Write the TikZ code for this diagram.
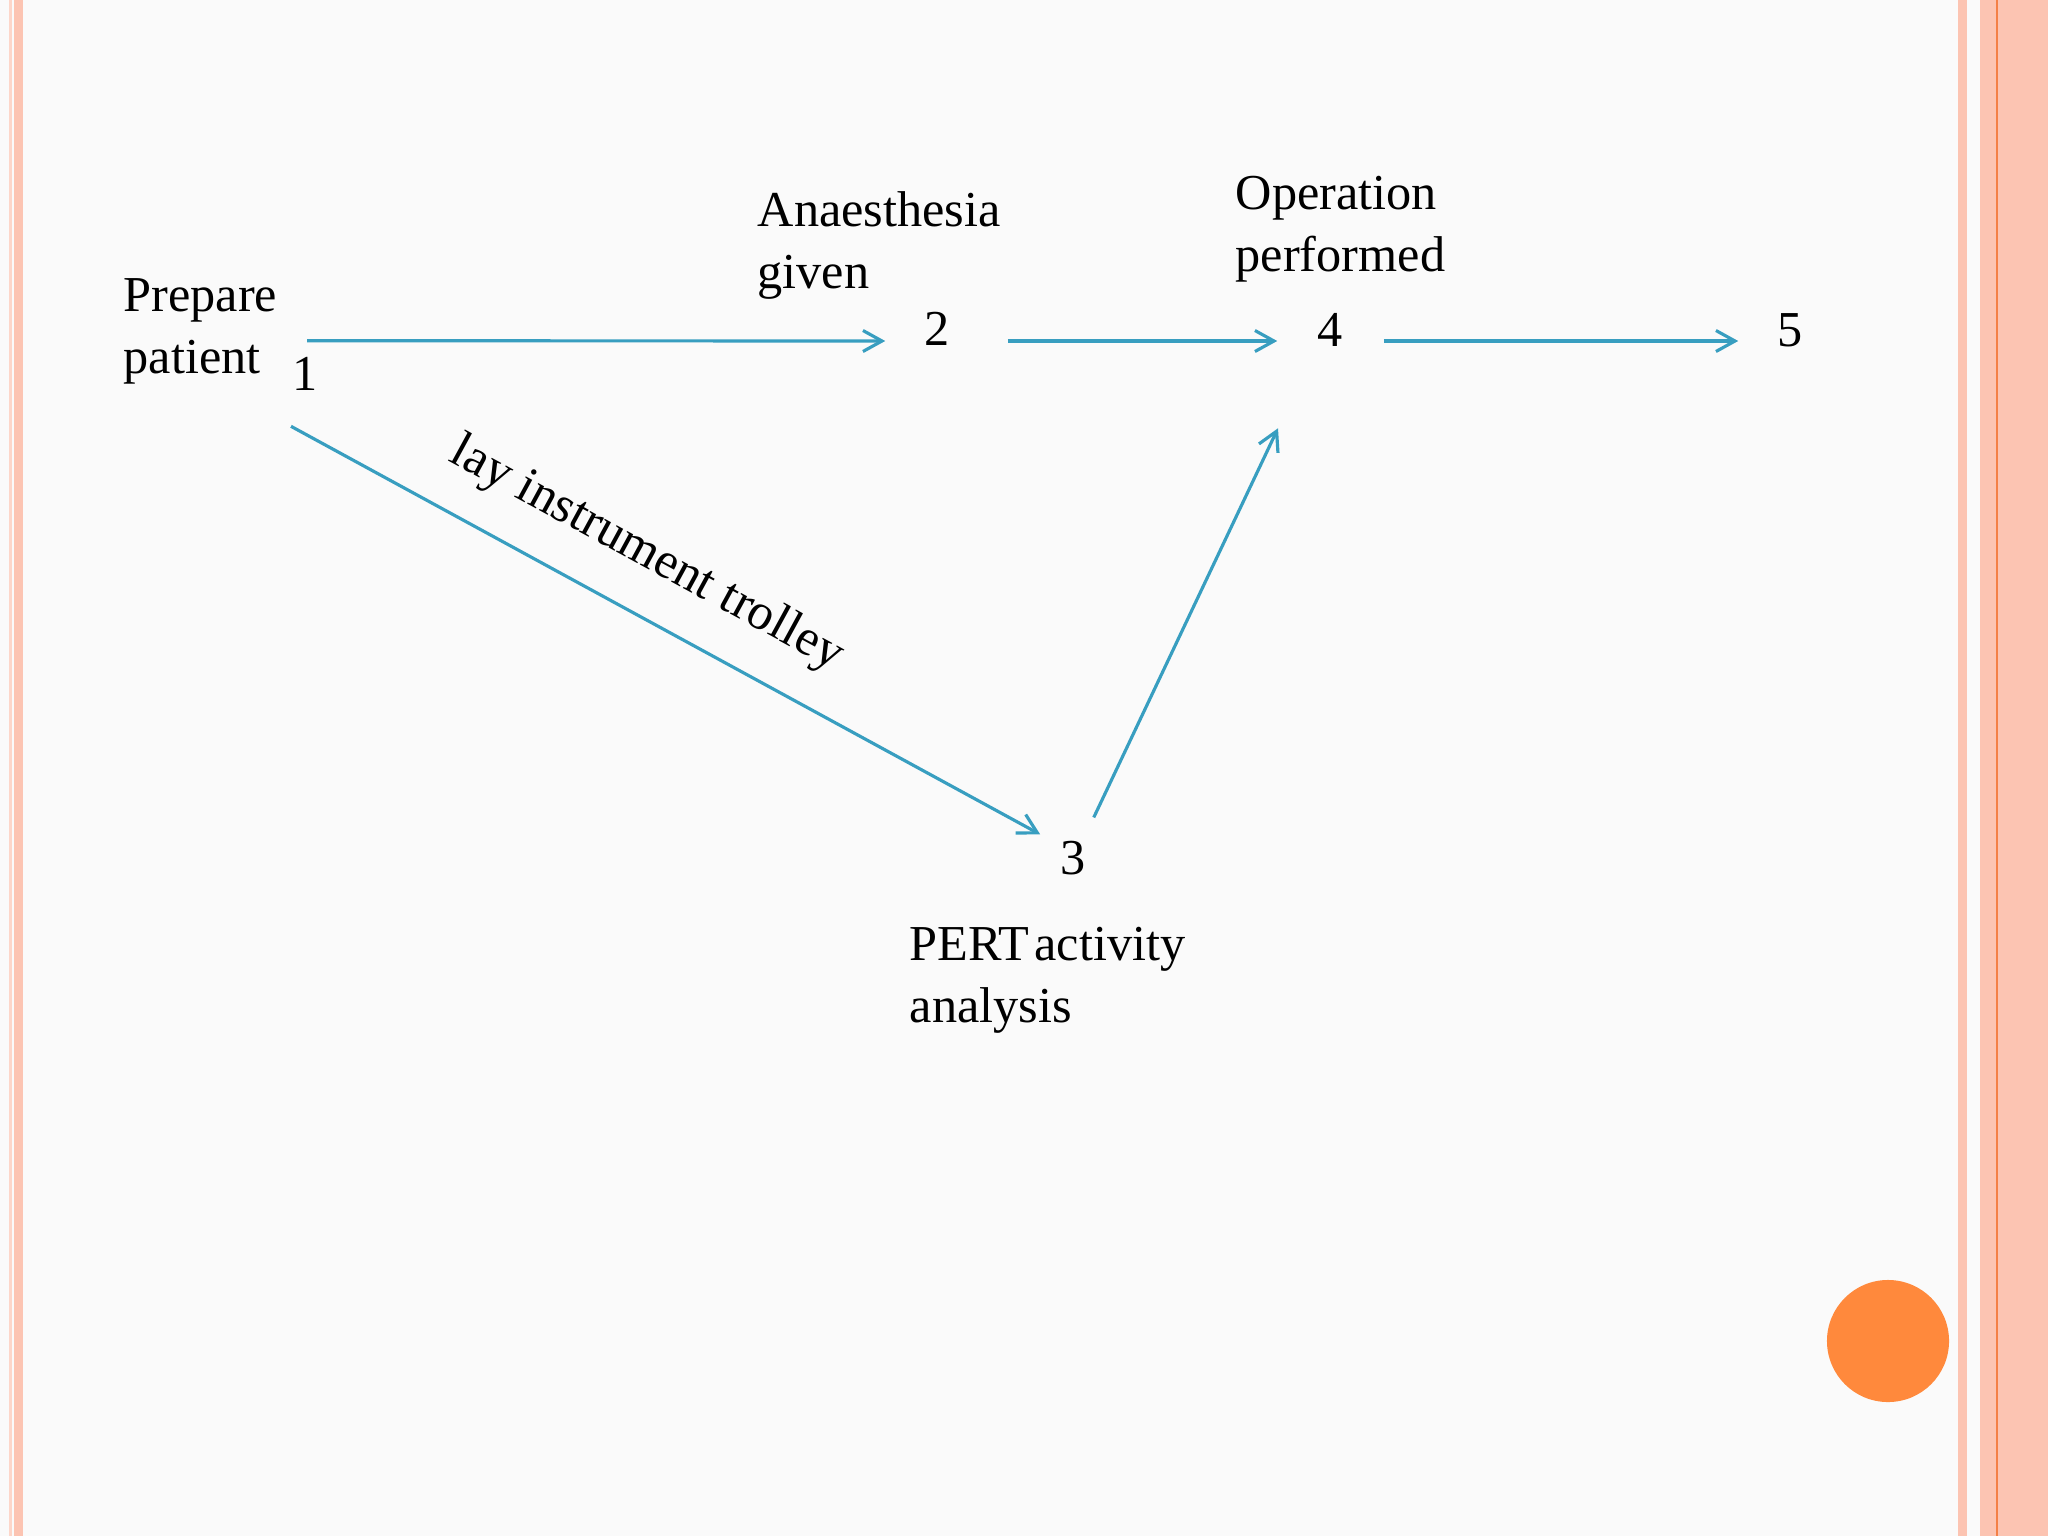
\documentclass[tikz,border=0pt]{standalone}
\usepackage{fontspec}
\setmainfont{Liberation Serif}
\usetikzlibrary{arrows.meta}
\definecolor{pertline}{RGB}{56,158,192}
\definecolor{bandpink}{RGB}{252,196,178}
\definecolor{bandorange}{RGB}{244,128,70}
\definecolor{dotorange}{RGB}{255,137,60}
\definecolor{slidebg}{RGB}{250,250,250}
\tikzset{
  num/.style={inner sep=0pt, font=\fontsize{14.3}{17.4}\selectfont},
  lbl/.style={inner sep=0pt, align=left, anchor=base west, font=\fontsize{14.3}{17.4}\selectfont},
  arr/.style={pertline, line width=0.9pt, -{Straight Barb[length=1.9mm,width=2.1mm]}},
}
\begin{document}
\begin{tikzpicture}[x=0.01cm,y=-0.01cm]
\useasboundingbox (0,0) rectangle (2048,1536);
%\draw[step=100,gray,very thin] (0,0) grid (2048,1536); %background grid
\fill[slidebg] (0,0) rectangle (2048,1536);
\fill[bandpink!70] (9,0) rectangle (12,1536);
\fill[bandpink] (14,0) rectangle (23,1536);
\fill[bandpink] (1958,0) rectangle (1967,1536);
\fill[bandpink] (1980,0) rectangle (2048,1536);
\draw[bandorange, line width=0.6pt] (1997,0) -- (1997,1536);
\fill[dotorange] (1888,1341) circle [radius=0.61cm];
%---------------------------------------------------
\node[num] (n1) at (305,374) {1};
\node[num] (n2) at (937,329) {2};
\node[num] (n3) at (1073,858) {3};
\node[num] (n4) at (1330,330) {4};
\node[num] (n5) at (1790,330) {5};
%---------------------------------------------------
\node[lbl] (prep) at (123,373) {Prepare\\patient};
\node[lbl] (anae) at (757,288) {Anaesthesia\\given};
\node[lbl] (oper) at (1235,271) {Operation\\performed};
\node[lbl] (pert) at (909,1022) {PERT\kern-0.15em{} activity\\analysis};
%---------------------------------------------------
\draw[arr] ([shift={(2,-16)}]n1.north) -- ([shift={(-38.5,12)}]n2.west);
\draw[arr] ([shift={(57.5,12)}]n2.east) -- ([shift={(-39.5,11)}]n4.west);
\draw[arr] ([shift={(40.5,11)}]n4.east) -- ([shift={(-38.5,11)}]n5.west);
\draw[arr] ([shift={(-14,35)}]n1.south) -- node[sloped, pos=0.438, anchor=base, yshift=0.45cm, inner sep=0pt, font=\fontsize{14.5}{17.4}\selectfont, black] (lay) {lay instrument trolley} ([shift={(-19.5,-6)}]n3.north west);
\draw[arr] ([shift={(7.5,-23)}]n3.north east) -- ([shift={(-52,81)}]n4.south);
\end{tikzpicture}
\end{document}
